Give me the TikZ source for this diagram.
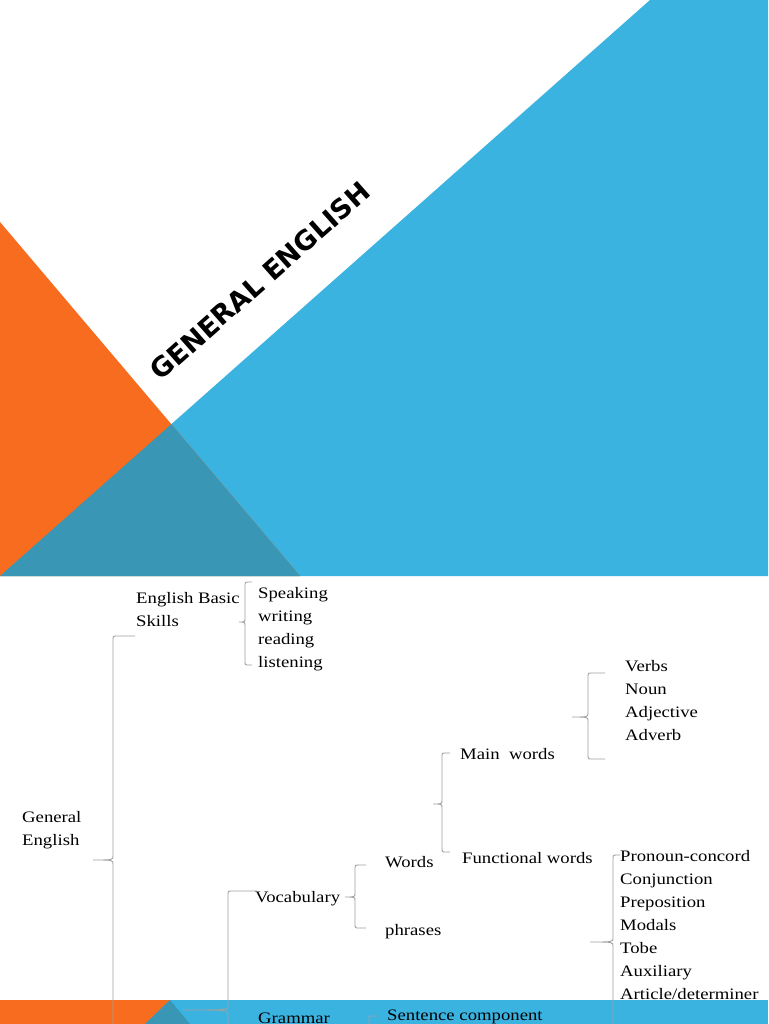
\documentclass[tikz,border=0pt]{standalone}
\usepackage{fontspec}
\setmainfont{Liberation Serif}[FakeStretch=1.17]
\newfontfamily\titlefont{DejaVu Sans}
\usetikzlibrary{positioning}
\definecolor{slideorange}{HTML}{F76C1F}
\definecolor{slideblue}{HTML}{3BB3E0}
\definecolor{slideteal}{HTML}{3996B4}
\definecolor{bracegray}{HTML}{A0A0A0}
\tikzset{
  item/.style={anchor=base west, inner sep=0pt, font=\fontsize{16}{23}\selectfont},
  next/.style={below=23pt of #1, anchor=base west},
  heading/.style={anchor=north west, inner sep=0pt, align=left, font=\fontsize{16}{23}\selectfont},
  bracket/.style={draw=bracegray, line width=0.9pt},
}
% spine x, top y, tip y, bottom y, hook end x, tip end x
\newcommand{\wbrace}[6]{%
  \draw[bracket] (#5,#2) -- (#1+4,#2) .. controls (#1,#2) .. (#1,#2+4) -- (#1,#3-4)
    .. controls (#1,#3) .. (#6,#3) .. controls (#1,#3) .. (#1,#3+4) -- (#1,#4-4)
    .. controls (#1,#4) .. (#1+4,#4) -- (#5,#4);}
\begin{document}
\begin{tikzpicture}[x=1pt, y=-1pt]
\useasboundingbox (0,0) rectangle (768,1024);
% title slide
\fill[slideblue] (650,0) -- (768,0) -- (768,576) -- (0,576) -- cycle;
\fill[slideorange] (0,222) -- (300,576) -- (0,576) -- cycle;
\fill[slideteal] (171.3,424.2) -- (300,576) -- (0,576) -- cycle;
\node[rotate=41.5, inner sep=0pt, font=\titlefont\bfseries\fontsize{27}{27}\selectfont] (title) at (260,281)
  {GENERAL ENGLISH};
% next slide
\fill[slideblue] (0,1000) rectangle (768,1024);
\fill[slideorange] (0,1000) -- (170,1000) -- (145,1024) -- (0,1024) -- cycle;
\fill[slideteal] (170,1000) -- (190,1024) -- (145,1024) -- cycle;

% braces
\wbrace{113}{636}{860}{1060}{135}{93}
\wbrace{245}{582}{622}{665}{252}{239}
\wbrace{228}{891}{1010}{1060}{257}{183}
\wbrace{355}{865}{897}{928}{366}{345}
\wbrace{442}{753}{804}{852}{450}{433}
\wbrace{588}{673}{717}{759}{605}{572}
\wbrace{613}{855}{942}{1060}{620}{590}
\draw[bracket] (378,1016) -- (373,1016) .. controls (369,1016) .. (369,1020) -- (369,1040);

% tree
\node[heading] (gen) at (22,811) {General\\English};
\node[heading] (basic) at (136,592) {English Basic\\Skills};
\node[item] (speak) at (258,598) {Speaking};
\node[item, next=speak.base west] (writ) {writing};
\node[item, next=writ.base west] (read) {reading};
\node[item, next=read.base west] (listen) {listening};
\node[item] (vocab) at (255,902) {Vocabulary};
\node[item] (words) at (385,867) {Words};
\node[item] (phr) at (385,935) {phrases};
\node[item] (main) at (460,759) {Main~~words};
\node[item] (func) at (462,863) {Functional words};
\node[item] (verbs) at (625,671) {Verbs};
\node[item, next=verbs.base west] (noun) {Noun};
\node[item, next=noun.base west] (adj) {Adjective};
\node[item, next=adj.base west] (adv) {Adverb};
\node[item] (pron) at (620,861) {Pronoun-concord};
\node[item, next=pron.base west] (conj) {Conjunction};
\node[item, next=conj.base west] (prep) {Preposition};
\node[item, next=prep.base west] (modal) {Modals};
\node[item, next=modal.base west] (tobe) {Tobe};
\node[item, next=tobe.base west] (aux) {Auxiliary};
\node[item, next=aux.base west] (art) {Article/determiner};
\node[item] (gram) at (258,1023) {Grammar};
\node[item] (sent) at (387,1020) {Sentence component};
\end{tikzpicture}
\end{document}
